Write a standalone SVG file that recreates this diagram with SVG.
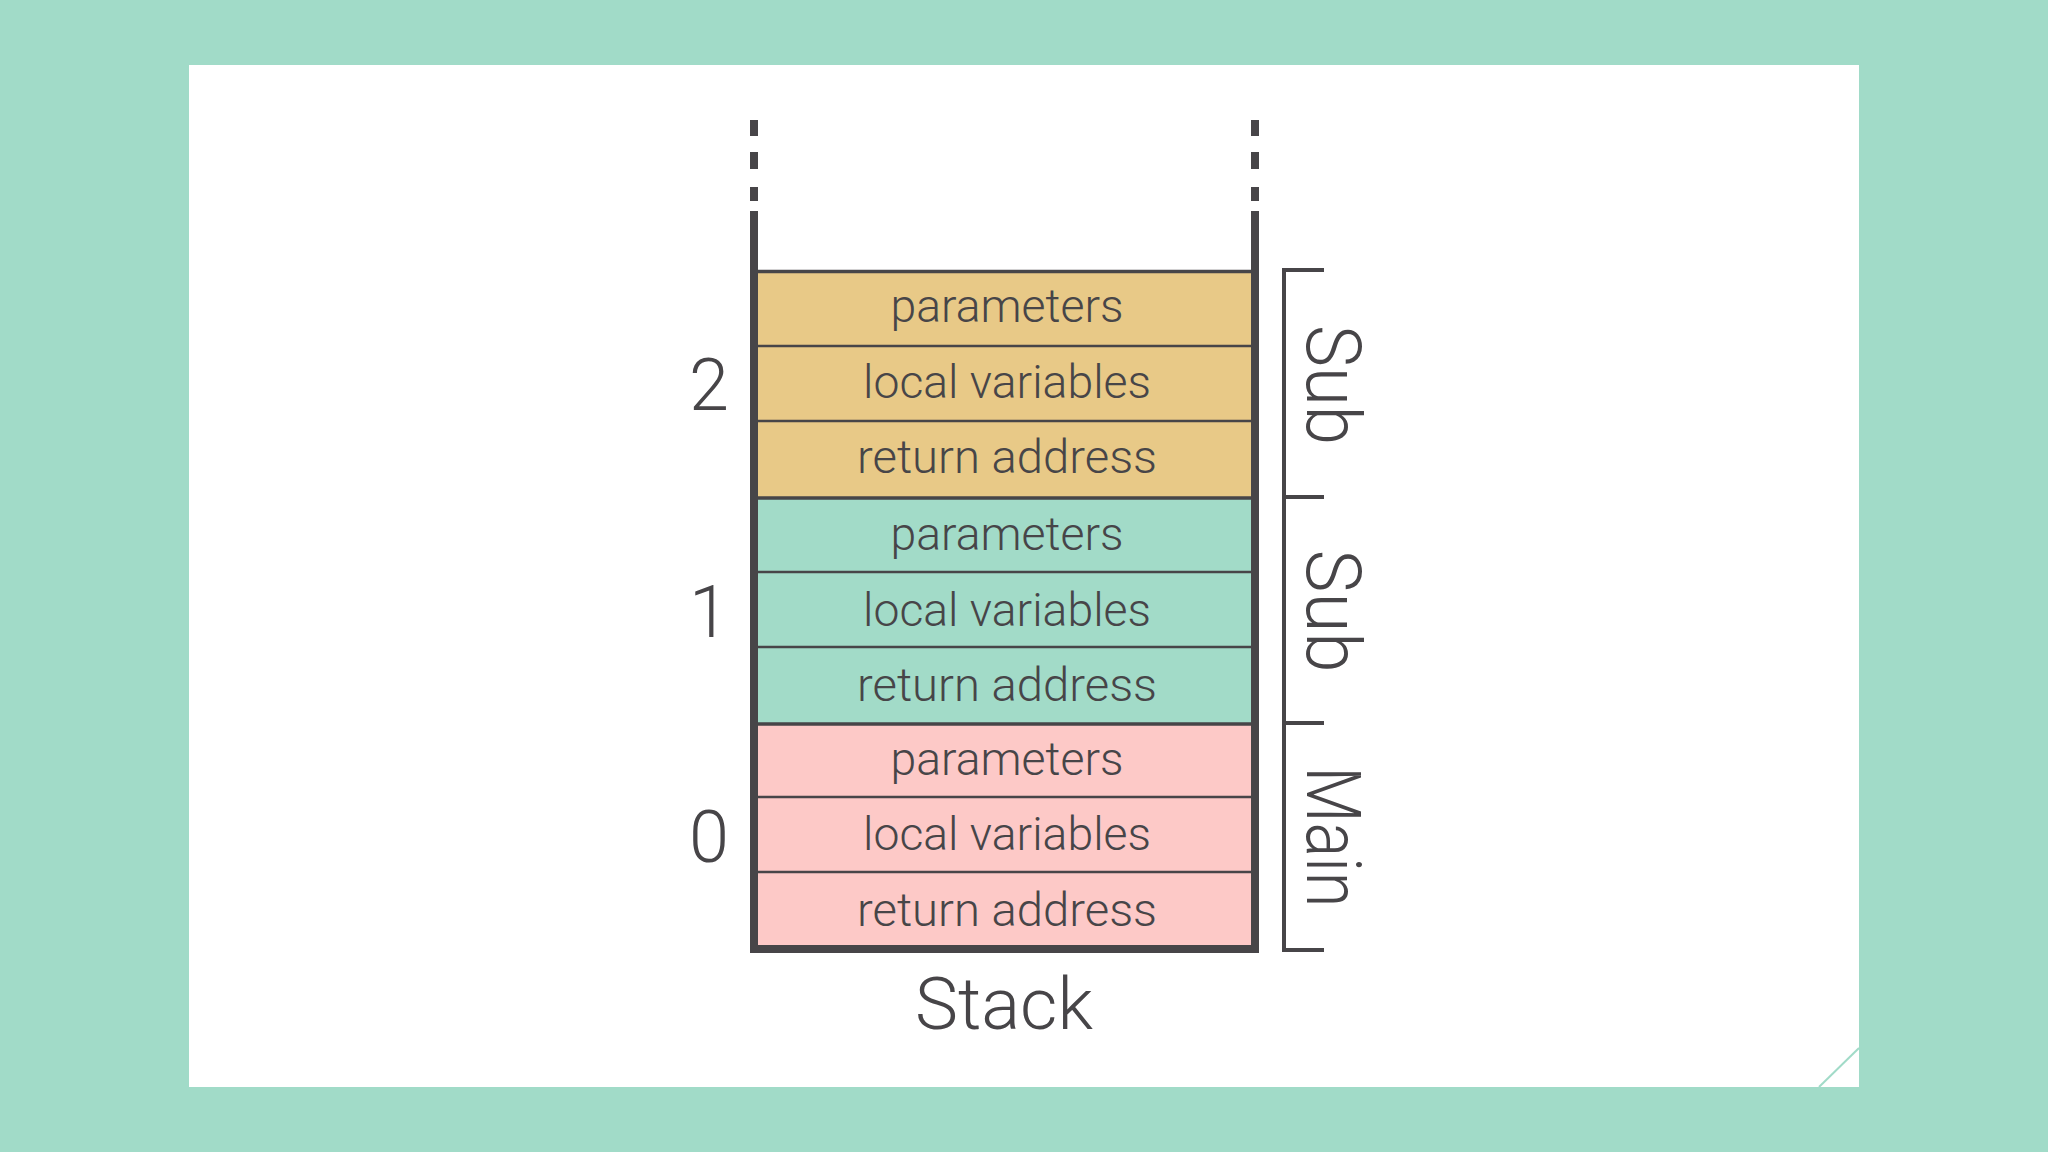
<svg xmlns="http://www.w3.org/2000/svg" width="2048" height="1152" viewBox="0 0 2048 1152">
<style>
.bg{fill:#A1DBC8}
.wall{fill:#474548}
.cell-o{fill:#E8C987}
.cell-t{fill:#A2DBC8}
.cell-p{fill:#FDC9C7}
.div{stroke:#474548;stroke-width:2.5;fill:none}
.sep{stroke:#474548;stroke-width:3.5;fill:none}
.brk{stroke:#474548;stroke-width:4;fill:none}
.lbl{font-family:Roboto,"Liberation Sans",Arial,sans-serif;font-weight:300;fill:#474548;text-anchor:middle}
.cell{font-size:47px}
.num{font-size:72px}
.side{font-size:76px}
</style>
<rect class="bg" x="0" y="0" width="2048" height="1152"/>
<rect x="189" y="65" width="1670" height="1022" fill="#FFFFFF"/>
<line x1="1819" y1="1087" x2="1859" y2="1048" stroke="#A1DBC8" stroke-width="2"/>

<g id="frame-2">
  <rect class="cell-o" x="756" y="271" width="497" height="227"/>
  <path class="sep" d="M756,271.5 H1253"/>
  <path class="div" d="M756,346 H1253 M756,421 H1253"/>
  <text class="lbl cell" x="1007" y="322" textLength="233" lengthAdjust="spacingAndGlyphs">parameters</text>
  <text class="lbl cell" x="1007" y="398" textLength="288" lengthAdjust="spacingAndGlyphs">local variables</text>
  <text class="lbl cell" x="1007" y="473" textLength="300" lengthAdjust="spacingAndGlyphs">return address</text>
</g>
<g id="frame-1">
  <rect class="cell-t" x="756" y="498" width="497" height="226"/>
  <path class="div" d="M756,572 H1253 M756,647 H1253"/>
  <text class="lbl cell" x="1007" y="550" textLength="233" lengthAdjust="spacingAndGlyphs">parameters</text>
  <text class="lbl cell" x="1007" y="626" textLength="288" lengthAdjust="spacingAndGlyphs">local variables</text>
  <text class="lbl cell" x="1007" y="701" textLength="300" lengthAdjust="spacingAndGlyphs">return address</text>
</g>
<g id="frame-0">
  <rect class="cell-p" x="756" y="724" width="497" height="223"/>
  <path class="div" d="M756,797 H1253 M756,872 H1253"/>
  <text class="lbl cell" x="1007" y="775" textLength="233" lengthAdjust="spacingAndGlyphs">parameters</text>
  <text class="lbl cell" x="1007" y="850" textLength="288" lengthAdjust="spacingAndGlyphs">local variables</text>
  <text class="lbl cell" x="1007" y="926" textLength="300" lengthAdjust="spacingAndGlyphs">return address</text>
</g>
<g id="frame-separators">
  <path class="sep" d="M756,498 H1253 M756,724 H1253"/>
</g>

<g id="stack-walls">
  <rect class="wall" x="750" y="120" width="8" height="16"/>
  <rect class="wall" x="750" y="152" width="8" height="17"/>
  <rect class="wall" x="750" y="187" width="8" height="14"/>
  <rect class="wall" x="750" y="211" width="8" height="742"/>
  <rect class="wall" x="1251" y="120" width="8" height="16"/>
  <rect class="wall" x="1251" y="152" width="8" height="17"/>
  <rect class="wall" x="1251" y="187" width="8" height="14"/>
  <rect class="wall" x="1251" y="211" width="8" height="742"/>
  <rect class="wall" x="750" y="945" width="509" height="8"/>
</g>

<g id="frame-numbers">
  <text class="lbl num" x="709" y="410">2</text>
  <text class="lbl num" x="709" y="637">1</text>
  <text class="lbl num" x="709" y="862">0</text>
</g>

<g id="bracket">
  <path class="brk" d="M1324,270 H1284 V950 H1324 M1284,497 H1324 M1284,723 H1324"/>
  <text class="lbl side" transform="translate(1307,385) rotate(90)" textLength="120" lengthAdjust="spacingAndGlyphs">Sub</text>
  <text class="lbl side" transform="translate(1307,611) rotate(90)" textLength="123" lengthAdjust="spacingAndGlyphs">Sub</text>
  <text class="lbl side" transform="translate(1307,837) rotate(90)" textLength="141" lengthAdjust="spacingAndGlyphs">Main</text>
</g>

<g id="stack-label">
  <text class="lbl num" x="1004" y="1029" textLength="178" lengthAdjust="spacingAndGlyphs">Stack</text>
</g>
</svg>
